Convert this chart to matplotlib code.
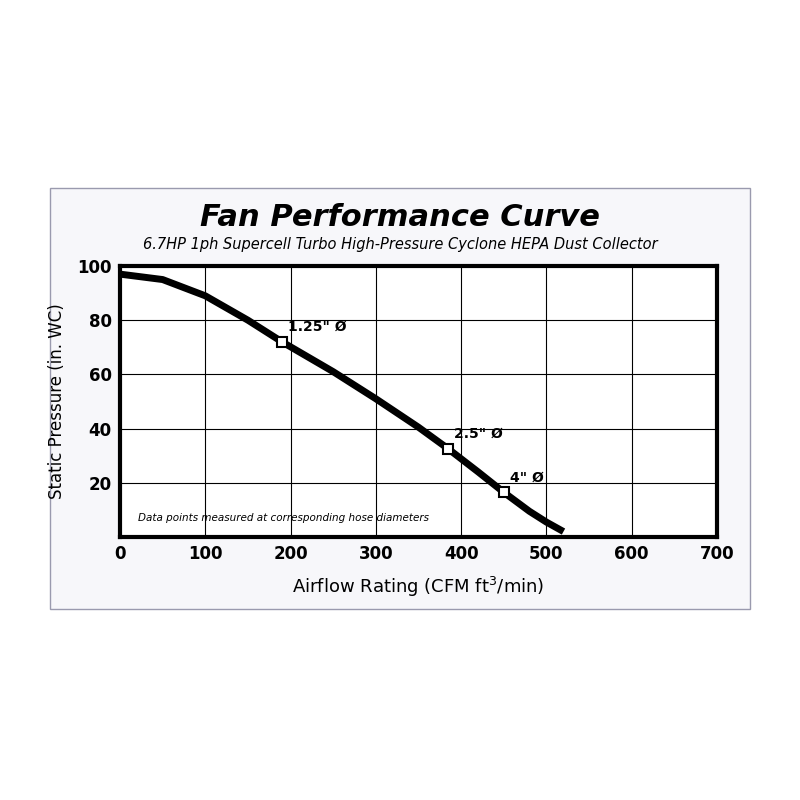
import matplotlib.pyplot as plt
from matplotlib.patches import Rectangle

plt.rcParams['font.family'] = ['Liberation Sans Narrow', 'DejaVu Sans']

# curve
curve_x = [0, 50, 100, 150, 190, 250, 300, 350, 385, 420, 450, 480, 500, 520]
curve_y = [97, 95, 89, 80, 72, 61, 51, 40.5, 32.5, 24, 16.5, 9.5, 5.5, 2]

point_x = [190, 385, 450]
point_y = [72, 32.5, 16.5]
point_labels = ['1.25" Ø', '2.5" Ø', '4" Ø']

x_ticks = [0, 100, 200, 300, 400, 500, 600, 700]
y_ticks = [20, 40, 60, 80, 100]

fig = plt.figure(figsize=(8, 8), dpi=100)
fig.patch.set_facecolor('white')

panel = Rectangle((50 / 800, 1 - 609 / 800), 700 / 800, 421 / 800, transform=fig.transFigure,
                  facecolor='#f7f7fa', edgecolor='#9a9aae', linewidth=1, zorder=-10)
fig.patches.append(panel)

ax = fig.add_axes([120 / 800, 1 - 537 / 800, 597 / 800, 271 / 800])
ax.set_facecolor('white')
ax.plot(curve_x, curve_y, color='black', linewidth=5, solid_capstyle='butt', zorder=3)
ax.plot(point_x, point_y, 's', markersize=7, markerfacecolor='white',
        markeredgecolor='black', markeredgewidth=1.5, zorder=4)
for px, py, lab in zip(point_x, point_y, point_labels):
    ax.text(px + 7, py + 4, lab, fontsize=10, fontweight='bold', zorder=5)

ax.set_xlim(0, 700)
ax.set_ylim(0, 100)
ax.set_xticks(x_ticks)
ax.set_yticks(y_ticks)
ax.grid(True, color='black', linewidth=0.8)
ax.tick_params(length=0, labelsize=12, pad=6)
for lab in ax.get_xticklabels() + ax.get_yticklabels():
    lab.set_fontweight('bold')
for s in ax.spines.values():
    s.set_linewidth(3)

ax.text(0.03, 0.06, 'Data points measured at corresponding hose diameters',
        transform=ax.transAxes, fontsize=7.5, style='italic')

ax.set_xlabel('Airflow Rating (CFM ft$^3$/min)', fontsize=13, labelpad=8)
ax.set_ylabel('Static Pressure (in. WC)', fontsize=12, labelpad=8)

fig.text(0.5, 1 - 218 / 800, 'Fan Performance Curve', ha='center', va='center',
         fontsize=22, fontweight='bold', style='italic')
fig.text(0.5, 1 - 245 / 800, '6.7HP 1ph Supercell Turbo High-Pressure Cyclone HEPA Dust Collector',
         ha='center', va='center', fontsize=10.5, style='italic')

fig.savefig('out.png', dpi=100)
